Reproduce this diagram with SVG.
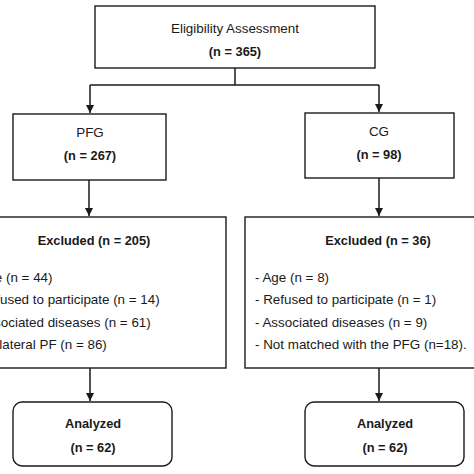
<svg xmlns="http://www.w3.org/2000/svg" width="474" height="474" viewBox="0 0 474 474">
<style>
.box{fill:#fff;stroke:#1a1a1a;stroke-width:1.4}
.t{font-family:"Liberation Sans",Arial,sans-serif;font-size:13.4px;fill:#1a1a1a}
.b{font-family:"Liberation Sans",Arial,sans-serif;font-size:12.8px;font-weight:bold;fill:#1a1a1a}
.c{text-anchor:middle}
.ln{fill:none;stroke:#1a1a1a;stroke-width:1.5}
</style>
<defs>
<marker id="ah" viewBox="0 0 10 10" refX="10" refY="5" markerWidth="8" markerHeight="8" markerUnits="userSpaceOnUse" orient="auto">
<path d="M0,0 L10,5 L0,10 z" fill="#1a1a1a"/>
</marker>
</defs>
<rect width="474" height="474" fill="#fff"/>
<g id="connectors">
<path class="ln" d="M235,68 V85 M90,85 H379"/>
<path class="ln" d="M90,85 V113" marker-end="url(#ah)"/>
<path class="ln" d="M379,85 V112" marker-end="url(#ah)"/>
<path class="ln" d="M89,180 V216" marker-end="url(#ah)"/>
<path class="ln" d="M379,178 V216" marker-end="url(#ah)"/>
<path class="ln" d="M90,368 V401" marker-end="url(#ah)"/>
<path class="ln" d="M379,368 V401" marker-end="url(#ah)"/>
</g>
<g id="eligibility">
<rect class="box" x="95" y="6" width="280" height="62"/>
<text class="t c" x="235" y="33">Eligibility Assessment</text>
<text class="b c" x="235" y="56">(n = 365)</text>
</g>
<g id="pfg">
<rect class="box" x="13" y="114" width="153" height="66"/>
<text class="t c" x="90" y="137">PFG</text>
<text class="b c" x="90" y="160">(n = 267)</text>
</g>
<g id="cg">
<rect class="box" x="305" y="113" width="149" height="65"/>
<text class="t c" x="379" y="136">CG</text>
<text class="b c" x="379" y="159">(n = 98)</text>
</g>
<g id="excluded-pfg">
<rect class="box" x="-39" y="217" width="265" height="151"/>
<text class="b c" x="94" y="245">Excluded (n = 205)</text>
<text class="t" x="-29" y="282">- Age (n = 44)</text>
<text class="t" x="-29" y="304">- Refused to participate (n = 14)</text>
<text class="t" x="-29" y="327">- Associated diseases (n = 61)</text>
<text class="t" x="-29" y="349">- Unilateral PF (n = 86)</text>
</g>
<g id="excluded-cg">
<rect class="box" x="245" y="217" width="266" height="151"/>
<text class="b c" x="378" y="245">Excluded (n = 36)</text>
<text class="t" x="255" y="282">- Age (n = 8)</text>
<text class="t" x="255" y="304">- Refused to participate (n = 1)</text>
<text class="t" x="255" y="327">- Associated diseases (n = 9)</text>
<text class="t" x="255" y="349">- Not matched with the PFG (n=18).</text>
</g>
<g id="analyzed-pfg">
<rect class="box" x="13" y="402" width="159" height="64" rx="9"/>
<text class="b c" x="93" y="428">Analyzed</text>
<text class="b c" x="93" y="452">(n = 62)</text>
</g>
<g id="analyzed-cg">
<rect class="box" x="305" y="402" width="159" height="64" rx="9"/>
<text class="b c" x="385" y="428">Analyzed</text>
<text class="b c" x="385" y="452">(n = 62)</text>
</g>
</svg>
